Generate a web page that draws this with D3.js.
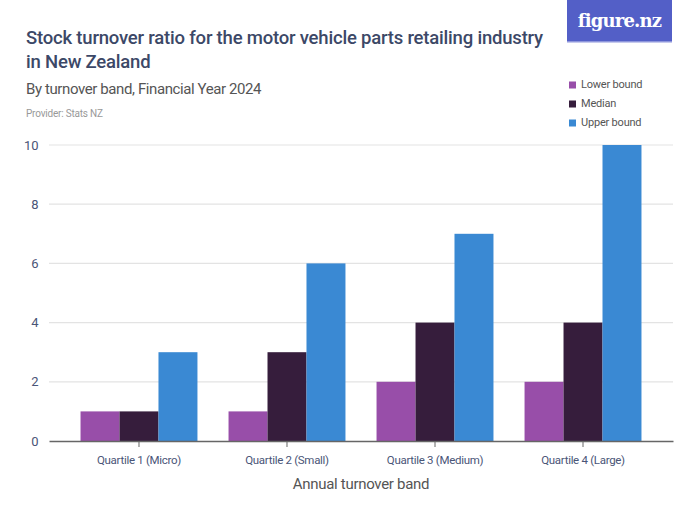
<!DOCTYPE html>
<html><head><meta charset="utf-8">
<script src="https://cdn.jsdelivr.net/npm/d3@7"></script>
<style>body{margin:0;background:#fff}svg{display:block}</style>
</head><body>
<script>
const categories = ["Quartile 1 (Micro)","Quartile 2 (Small)","Quartile 3 (Medium)","Quartile 4 (Large)"];
const seriesNames = ["Lower bound","Median","Upper bound"];
const lowerBound = [1,1,2,2];
const median = [1,3,4,4];
const upperBound = [3,6,7,10];
const yTicks = [0,2,4,6,8,10];
const colors = ["#984ea9","#361d3c","#3a89d3"];

const W=700,H=525;
const svg=d3.select("body").append("svg").attr("width",W).attr("height",H);
const font="Roboto, 'Liberation Sans', sans-serif";

// logo
svg.append("rect").attr("x",567).attr("y",0).attr("width",105).attr("height",42).attr("fill","#535fc7");
svg.append("rect").attr("x",567).attr("y",41).attr("width",105).attr("height",1.5).attr("fill","#8e96dc");
svg.append("text").attr("x",619.5).attr("y",27).attr("text-anchor","middle").attr("fill","#fff")
  .attr("font-family","'DejaVu Serif', serif").attr("font-size",18).attr("font-weight","bold").attr("letter-spacing",-0.8).text("figure.nz");

// titles
const title=svg.append("text").attr("font-family",font).attr("font-size",18.5).attr("font-weight",500).attr("fill","#3c4867").attr("letter-spacing",-0.2);
title.append("tspan").attr("x",26).attr("y",44).text("Stock turnover ratio for the motor vehicle parts retailing industry");
title.append("tspan").attr("x",26).attr("y",68).text("in New Zealand");
svg.append("text").attr("x",26).attr("y",94).attr("font-family",font).attr("font-size",15).attr("fill","#555").attr("letter-spacing",-0.4).text("By turnover band, Financial Year 2024");
svg.append("text").attr("x",26).attr("y",117).attr("font-family",font).attr("font-size",10).attr("fill","#999").attr("letter-spacing",-0.2).text("Provider: Stats NZ");

// legend
const lg=svg.append("g");
seriesNames.forEach((s,i)=>{
  const y=84+i*19;
  lg.append("rect").attr("x",569).attr("y",y-2.5).attr("width",7).attr("height",7).attr("fill",colors[i]);
  lg.append("text").attr("x",581).attr("y",y+4).attr("font-family",font).attr("font-size",11).attr("fill","#555").attr("letter-spacing",-0.2).text(s);
});

// scales
const x0=d3.scaleBand().domain(categories).range([49,673]).paddingInner(0.21).paddingOuter(0.213);
const x1=d3.scaleBand().domain(seriesNames).range([0,x0.bandwidth()]);
const y=d3.scaleLinear().domain([0,10]).range([441,145]);

// grid
svg.append("g").selectAll("line").data(yTicks.filter(d=>d>0)).join("line")
  .attr("x1",49).attr("x2",673).attr("y1",d=>y(d)).attr("y2",d=>y(d)).attr("stroke","#e3e3e3").attr("stroke-width",1.2);

// y labels
svg.append("g").selectAll("text").data(yTicks).join("text")
  .attr("x",38.5).attr("y",d=>y(d)+4.5).attr("text-anchor","end").attr("font-family",font).attr("font-size",13)
  .attr("fill","#4a5577").text(d=>d);

// bars
const data=[lowerBound,median,upperBound];
const g=svg.append("g");
categories.forEach((c,ci)=>{
  seriesNames.forEach((s,si)=>{
    const v=data[si][ci];
    g.append("rect").attr("x",x0(c)+x1(s)).attr("y",y(v)).attr("width",x1.bandwidth()).attr("height",y(0)-y(v)).attr("fill",colors[si]);
  });
});

// x axis
const xa=svg.append("g").attr("transform","translate(0,441)").call(d3.axisBottom(x0).tickSize(6).tickSizeOuter(0).tickPadding(9));
xa.select(".domain").attr("stroke","#666").attr("stroke-width",1.5);
xa.selectAll(".tick line").attr("stroke","#666");
xa.selectAll(".tick text").attr("font-family",font).attr("font-size",11.5).attr("fill","#4a5577").attr("letter-spacing",-0.3);

svg.append("text").attr("x",361).attr("y",489).attr("text-anchor","middle").attr("font-family",font).attr("font-size",15).attr("fill","#555").attr("letter-spacing",-0.3).text("Annual turnover band");
</script>
</body></html>
